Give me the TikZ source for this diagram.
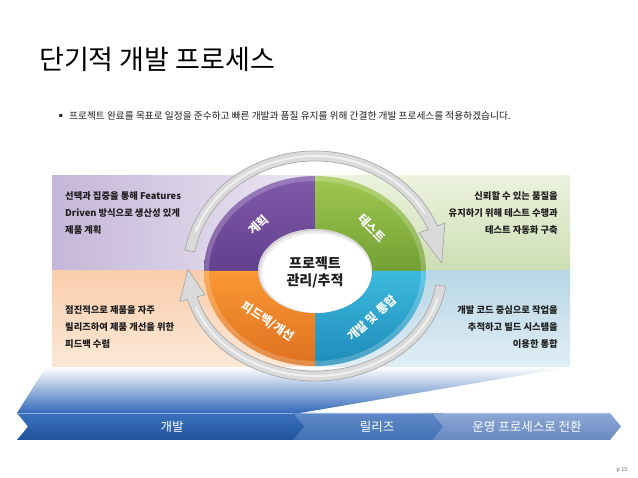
\documentclass[tikz,border=0pt]{standalone}
\usepackage{fontspec}
\setmainfont{Noto Sans CJK KR}
\newfontfamily\dejavu{DejaVu Sans}
\definecolor{txt}{RGB}{30,30,30}
\definecolor{purpA}{RGB}{128,90,170}
\definecolor{purpB}{RGB}{98,64,142}
\definecolor{grnA}{RGB}{160,200,80}
\definecolor{grnB}{RGB}{115,160,52}
\definecolor{bluA}{RGB}{60,185,222}
\definecolor{bluB}{RGB}{30,140,185}
\definecolor{orA}{RGB}{250,152,52}
\definecolor{orB}{RGB}{222,112,30}
\definecolor{pPanL}{RGB}{196,182,216}
\definecolor{pPanR}{RGB}{236,232,243}
\definecolor{oPanT}{RGB}{249,206,172}
\definecolor{oPanB}{RGB}{252,232,215}
\definecolor{gPanT}{RGB}{236,242,222}
\definecolor{gPanB}{RGB}{205,222,178}
\definecolor{bPanT}{RGB}{184,214,230}
\definecolor{bPanB}{RGB}{224,238,245}
\definecolor{wedgeB}{RGB}{52,105,185}
\definecolor{wedgeM}{RGB}{205,218,236}
\definecolor{chA}{RGB}{58,112,188}
\definecolor{chAb}{RGB}{34,84,158}
\definecolor{chB}{RGB}{95,138,200}
\definecolor{chBb}{RGB}{66,112,178}
\definecolor{chC}{RGB}{140,168,214}
\definecolor{chCb}{RGB}{104,136,192}
\definecolor{arrF}{RGB}{218,218,218}
\definecolor{arrD}{RGB}{168,168,168}
\tikzset{
  paneltext/.style={font=\fontsize{9.3}{17}\selectfont\bfseries, text=txt, inner sep=0pt},
  seglabel/.style={font=\fontsize{12}{13}\selectfont\bfseries, text=white, inner sep=0pt},
  chevlabel/.style={font=\fontsize{12.5}{14}\selectfont, text=white, inner sep=0pt},
  grayarrow/.style={fill=arrF, draw=arrD, line width=0.7pt, line join=round},
}
\begin{document}
\begin{tikzpicture}[x=1pt,y=-1pt]
\useasboundingbox (0,0) rectangle (638,478);
\fill[white] (0,0) rectangle (638,478);

% title and bullet
\node[anchor=west, inner sep=0pt, font=\fontsize{27}{30}\selectfont, text=black] (title) at (39,59.5) {단기적 개발 프로세스};
\node[inner sep=0pt, font=\dejavu\fontsize{6}{7}\selectfont, text=txt] (bul) at (61,116) {▪};
\node[anchor=west, inner sep=0pt, font=\fontsize{9.7}{11}\selectfont, text=txt] (intro) at (69,116) {프로젝트 완료를 목표로 일정을 준수하고 빠른 개발과 품질 유지를 위해 간결한 개발 프로세스를 적용하겠습니다.};

% wedge under panels
\shade[top color=white, middle color=wedgeM, bottom color=wedgeB] (17,413) -- (46,367) -- (570,367) -- (300,413) -- cycle;

% panels
\shade[left color=pPanL, right color=pPanR] (52,176) rectangle (315,271);
\shade[top color=oPanT, bottom color=oPanB] (52,271) rectangle (315,367);
\shade[top color=gPanT, bottom color=gPanB] (315,176) rectangle (570,271);
\shade[top color=bPanT, bottom color=bPanB] (315,271) rectangle (570,367);

% panel texts
\node[paneltext, anchor=west, align=left] (tl) at (65,213.5) {선택과 집중을 통해 Features\\Driven 방식으로 생산성 있게\\제품 계획};
\node[paneltext, anchor=west, align=left] (bl) at (65,327.5) {점진적으로 제품을 자주\\릴리즈하여 제품 개선을 위한\\피드백 수렴};
\node[paneltext, anchor=east, align=right] (tr) at (558,213.5) {신뢰할 수 있는 품질을\\유지하기 위해 테스트 수행과\\테스트 자동화 구축};
\node[paneltext, anchor=east, align=right] (br) at (558,327.5) {개발 코드 중심으로 작업을\\추적하고 빌드 시스템을\\이용한 통합};

\begin{scope}[shift={(315,271)}]
  % gray arrows
  \path[grayarrow] (190:132 and 120) arc[start angle=190, end angle=338, x radius=132, y radius=120]
     -- (338:140 and 128) -- (356:127 and 115) -- (338:112 and 102) -- (338:122 and 110)
     arc[start angle=338, end angle=190, x radius=122, y radius=110] -- cycle;
  \path[grayarrow] (8:132 and 110) arc[start angle=8, end angle=165, x radius=132, y radius=110]
     -- (165:140 and 118) -- (181:127 and 105) -- (165:114 and 92) -- (165:122 and 100)
     arc[start angle=165, end angle=8, x radius=122, y radius=100] -- cycle;
  \draw[white, opacity=0.6, line width=2pt] (200:127 and 115) arc[start angle=200, end angle=330, x radius=127, y radius=115];
  \draw[white, opacity=0.6, line width=2pt] (15:127 and 105) arc[start angle=15, end angle=160, x radius=127, y radius=105];

  % ring quadrants
  \shade[top color=purpA, bottom color=purpB] (180:111 and 95) arc[start angle=180, end angle=270, x radius=111, y radius=95]
     -- (270:57 and 42) arc[start angle=270, end angle=180, x radius=57, y radius=42] -- cycle;
  \shade[top color=grnA, bottom color=grnB] (270:111 and 95) arc[start angle=270, end angle=360, x radius=111, y radius=95]
     -- (360:57 and 42) arc[start angle=360, end angle=270, x radius=57, y radius=42] -- cycle;
  \shade[top color=bluA, bottom color=bluB] (0:111 and 95) arc[start angle=0, end angle=90, x radius=111, y radius=95]
     -- (90:57 and 42) arc[start angle=90, end angle=0, x radius=57, y radius=42] -- cycle;
  \shade[top color=orA, bottom color=orB] (90:111 and 95) arc[start angle=90, end angle=180, x radius=111, y radius=95]
     -- (180:57 and 42) arc[start angle=180, end angle=90, x radius=57, y radius=42] -- cycle;
  \draw[white, opacity=0.2, line width=5pt] (0,0) ellipse [x radius=108.5, y radius=92.5];

  % inner white with shadow
  \fill[gray!35] (0,0) ellipse [x radius=57, y radius=42];
  \fill[gray!15] (0.8,1) ellipse [x radius=56, y radius=41];
  \fill[white] (1.5,2) ellipse [x radius=54.5, y radius=39.5];
\end{scope}

\node[inner sep=0pt, align=center, font=\fontsize{14}{17}\selectfont\bfseries, text=txt] (center) at (315,272) {프로젝트\\관리/추적};

% segment labels
\node[seglabel, rotate=43] (plan) at (258,225) {계획};
\node[seglabel, rotate=-46] (test) at (372,228) {테스트};
\node[seglabel, rotate=-33] (fb) at (268,321.5) {피드백/개선};
\node[seglabel, rotate=42] (dev) at (372,318) {개발 및 통합};

% chevrons
\shade[top color=chC, bottom color=chCb] (425,413) -- (610,413) -- (621,426.5) -- (610,440) -- (425,440) -- cycle;
\shade[top color=chB, bottom color=chBb] (290,413) -- (432,413) -- (443,426.5) -- (432,440) -- (290,440) -- cycle;
\shade[top color=chA, bottom color=chAb] (17,413) -- (293,413) -- (304,426.5) -- (293,440) -- (17,440) -- (28,426.5) -- cycle;
\draw[white, opacity=0.45, line width=0.8pt] (18,413.5) -- (293,413.5);
\draw[white, opacity=0.35, line width=0.8pt] (300,413.5) -- (432,413.5);
\draw[white, opacity=0.3, line width=0.8pt] (443,413.5) -- (610,413.5);

\node[chevlabel] (c1) at (172,427) {개발};
\node[chevlabel] (c2) at (377,427) {릴리즈};
\node[chevlabel] (c3) at (527,427) {운영 프로세스로 전환};

\node[inner sep=0pt, font=\fontsize{5.5}{6}\selectfont, text=gray!80!black] (pg) at (622,470) {p 15};
\end{tikzpicture}
\end{document}
